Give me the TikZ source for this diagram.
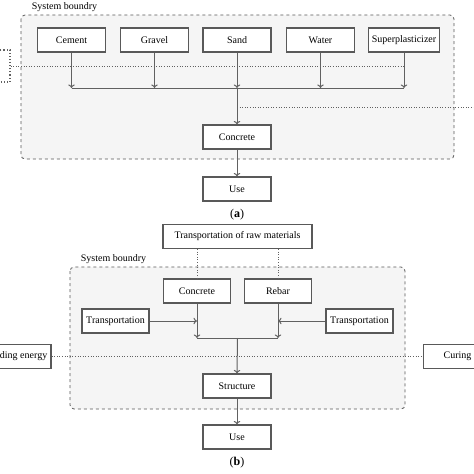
\documentclass[tikz,border=0pt]{standalone}
\usepackage{fontspec}
\setmainfont{Liberation Serif}
\usetikzlibrary{positioning, arrows.meta}

\def\boundarya{(21,15) rectangle (454,159)}
\def\boundaryb{(70,267) rectangle (405,409)}
\colorlet{box edge}{black!65}
\colorlet{line color}{black!62}
\colorlet{boundary area}{black!4}
\tikzset{
  boundary/.style={fill=boundary area, draw=box edge, dashed, thick, rounded corners=4pt},
  flow/.style={draw=line color, line width=1pt, -{To[length=3.5pt, width=6.5pt]}},
  link/.style={draw=line color, line width=1pt, -}
  }
\tikzstyle{process}=[rectangle, draw=box edge, line width=1.1pt, fill=white, minimum width=68pt, minimum height=24pt, inner sep=3pt, font=\fontsize{10}{12}\selectfont]
\tikzstyle{outside}=[process, draw=line color, dotted]
\tikzstyle{energy} = [draw=line color, semithick, dotted]
\tikzstyle{label}=[font=\fontsize{10}{12}\selectfont, inner sep=0pt]

\begin{document}
\begin{tikzpicture}[x=1pt, y=-1pt]
   \useasboundingbox (0,0) rectangle (474,474);
   \clip (0,0) rectangle (474,474);

   % (a) concrete production
   \path[boundary] \boundarya;
   \node[label] (sysa) at (64.5,7) {System boundry};

   \node[outside, minimum width=40pt, minimum height=32pt] (inputa) at (-10,66) {};
   \coordinate (outputa) at (480,107);

   \node[process] (cement) at (71.5,40) {Cement};
   \node[process] (gravel) at (154.5,40) {Gravel};
   \node[process] (sand)   at (237,40)  {Sand};
   \node[process] (water)  at (320.5,40) {Water};
   \node[process] (super)  at (404,40)  {Superplasticizer};
   \node[process] (concretea) at (237,137) {Concrete};
   \node[process] (usea)      at (237,189) {Use};

   \coordinate (mixa) at (237,88);

   \path[energy] (inputa.east |- 0,66) -- (super.south |- 0,66);
   \path[energy] (mixa |- 0,107) -- (outputa);

   \path[flow] (cement.south) -- (cement.south |- mixa);
   \path[flow] (gravel.south) -- (gravel.south |- mixa);
   \path[flow] (sand.south) -- (mixa);
   \path[flow] (water.south) -- (water.south |- mixa);
   \path[flow] (super.south) -- (super.south |- mixa);
   \path[link] (cement.south |- mixa) -- (super.south |- mixa);
   \path[flow] (mixa) -- (concretea.north);
   \path[flow] (concretea.south) -- (usea.north);

   \node[font=\fontsize{12}{14}\selectfont] (capa) at (237,214.5) {(\textbf{a})};

   % (b) structure construction
   \path[boundary] \boundaryb;
   \node[label] (sysb) at (113.5,259) {System boundry};

   \node[process, minimum width=149pt] (raw) at (237.5,236.5) {Transportation of raw materials};
   \node[process, minimum width=67pt] (concreteb) at (197,291) {Concrete};
   \node[process, minimum width=67pt] (rebar)     at (278,291) {Rebar};
   \node[process, minimum width=67pt] (transl)    at (115.5,321) {Transportation};
   \node[process, minimum width=67pt] (transr)    at (359.5,321) {Transportation};
   \node[process] (structure) at (237,386) {Structure};
   \node[process] (useb)      at (237,437) {Use};
   \node[process, minimum width=72pt] (building) at (15,356.5) {Building energy};
   \node[process] (curing) at (457.5,356.5) {Curing};

   \coordinate (mixb) at (237.5,338);

   \path[energy] (concreteb.north |- raw.south) -- (concreteb.north);
   \path[energy] (rebar.north |- raw.south) -- (rebar.north);
   \path[energy] (building.east) -- (curing.west);

   \path[flow] (transl.east) -- (transl.east -| concreteb.south);
   \path[flow] (transr.west) -- (transr.west -| rebar.south);
   \path[flow] (concreteb.south) -- (concreteb.south |- mixb);
   \path[flow] (rebar.south) -- (rebar.south |- mixb);
   \path[link] (concreteb.south |- mixb) -- (rebar.south |- mixb);
   \path[flow] (mixb) -- (structure.north);
   \path[flow] (structure.south) -- (useb.north);

   \node[font=\fontsize{12}{14}\selectfont] (capb) at (237,463) {(\textbf{b})};
\end{tikzpicture}
\end{document}
